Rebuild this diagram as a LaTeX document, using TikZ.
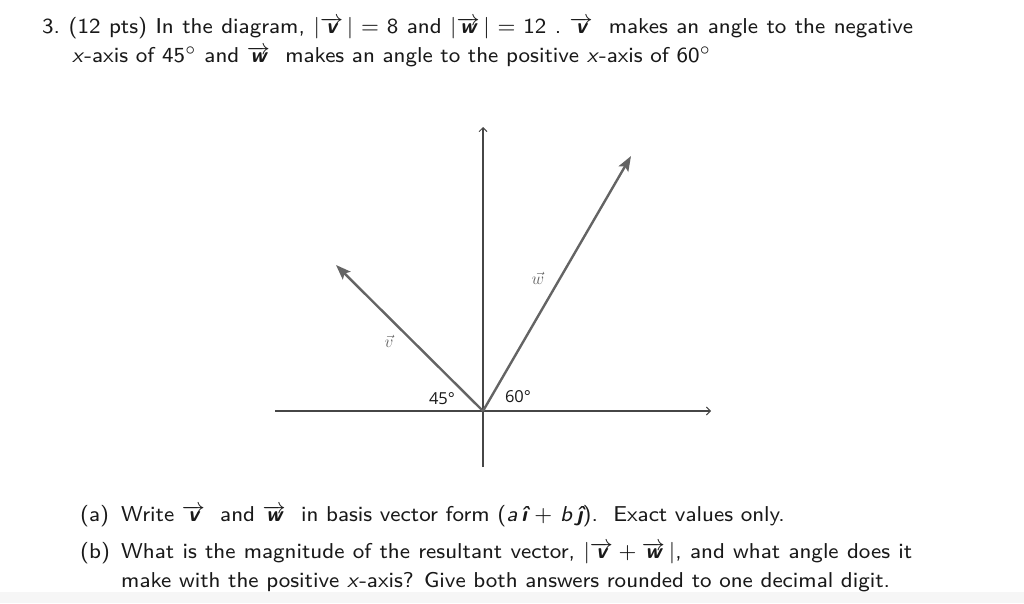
\documentclass[tikz,border=0pt]{standalone}
\usepackage{fontspec}
\usetikzlibrary{arrows.meta}
\newfontfamily\lblfont{Open Sans}
\definecolor{txt}{RGB}{25,25,25}
\definecolor{axiscol}{RGB}{70,70,70}
\definecolor{veccol}{RGB}{100,100,100}
\definecolor{band}{RGB}{246,246,246}
\newcommand{\tscalex}{2.71}
\newcommand{\tscaley}{2.6875}
\newcommand{\bvec}[1]{\ensuremath{\overrightarrow{\mbox{\bfseries\slshape #1}}}}
\newcommand{\vgap}{\hspace{0.35em}}
\newcommand{\bigtxt}[1]{\scalebox{\tscalex}[\tscaley]{\sffamily\fontsize{8}{10}\selectfont #1}}
\newcommand{\justtxt}[2]{\scalebox{\tscalex}[\tscaley]{\sffamily\fontsize{8}{10}\selectfont\makebox[#1][s]{#2}}}
\tikzset{
  txtline/.style={anchor=base west, inner sep=0pt, text=txt},
  axisline/.style={draw=axiscol, line width=1.1pt, -{Straight Barb[length=4pt,width=8pt,line width=0.9pt]}},
  vecline/.style={draw=veccol, line width=2.4pt, -{Stealth[length=15pt,width=11pt,inset=3pt]}},
  anglelbl/.style={inner sep=0pt, text=txt, font=\lblfont\fontsize{16.5}{20}\selectfont},
  veclbl/.style={inner sep=0pt, text=veccol, font=\fontsize{18}{20}\selectfont}
}
\begin{document}
\begin{tikzpicture}[x=1pt,y=-1pt]
\useasboundingbox (0,0) rectangle (1024,603);
\fill[band] (0,592) rectangle (1024,603);
% header
\node[txtline] (h1) at (42,33) {\justtxt{321.4pt}{3.\ (12 pts) In the diagram, $|\bvec{v}\,| = \mbox{8}$ and $|\bvec{w}\,| = \mbox{12}$ .\ \bvec{v}\vgap\ makes an angle to the negative}};
\node[txtline] (h2) at (72,62) {\bigtxt{\textsl{x}-axis of 45$^\circ$ and \bvec{w}\vgap\ makes an angle to the positive \textsl{x}-axis of 60$^\circ$}};
% axes
\coordinate (O) at (483,411);
\coordinate (xl) at (275,411);
\coordinate (xr) at (711,411);
\coordinate (yb) at (483,467);
\coordinate (yt) at (483,127);
\draw[axisline] (xl) -- (xr);
\draw[axisline] (yb) -- (yt);
% vectors
\coordinate (vt) at (336,265);
\coordinate (wt) at (631,156);
\draw[vecline] (O) -- (vt);
\draw[vecline] (O) -- (wt);
\node[veclbl] (vl) at (389,341) {$\vec{v}$};
\node[veclbl] (wl) at (538,278) {$\vec{w}$};
\node[anglelbl] (a45) at (442,399) {45°};
\node[anglelbl] (a60) at (518,397) {60°};
% questions
\node[txtline] (qa) at (80,521) {\bigtxt{(a)}};
\node[txtline] (qat) at (121,521) {\bigtxt{Write \bvec{v}\vgap\ and \bvec{w}\vgap\ in basis vector form (\textsl{a}\,{\bfseries\slshape\^{\i}} $+$ \textsl{b}\,{\bfseries\slshape\^{\j}}).\ \ Exact values only.}};
\node[txtline] (qb) at (80,558) {\bigtxt{(b)}};
\node[txtline] (qbt) at (121,558) {\justtxt{291.9pt}{What is the magnitude of the resultant vector, $|\bvec{v} + \bvec{w}\,|$, and what angle does it}};
\node[txtline] (qbt2) at (121,587) {\bigtxt{make with the positive \textsl{x}-axis? Give both answers rounded to one decimal digit.}};
\end{tikzpicture}
\end{document}
